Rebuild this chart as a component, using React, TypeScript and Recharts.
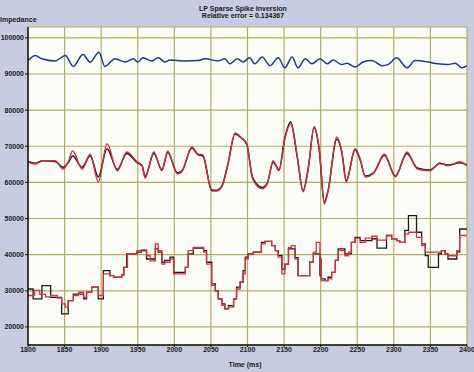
import { ComposedChart, Line, XAxis, YAxis, CartesianGrid, ReferenceLine } from "recharts";

// time (ms) ticks and impedance ticks
const timeTicks = [1800, 1850, 1900, 1950, 2000, 2050, 2100, 2150, 2200, 2250, 2300, 2350, 2400];
const impTicks = [20000, 30000, 40000, 50000, 60000, 70000, 80000, 90000, 100000];

// upper trace (blue)
const blueT = [1800, 1810, 1819, 1837, 1851, 1862, 1875, 1885, 1897, 1905, 1919, 1933, 1944, 1950, 1957, 1969, 1978, 1987, 1994, 2015, 2032, 2042, 2060, 2069, 2076, 2086, 2094, 2103, 2110, 2120, 2131, 2142, 2151, 2161, 2169, 2179, 2188, 2199, 2209, 2217, 2229, 2236, 2247, 2258, 2270, 2284, 2292, 2304, 2318, 2329, 2347, 2360, 2374, 2384, 2393, 2400];
const blueV = [93700, 95100, 94200, 93600, 95100, 92100, 95400, 93300, 96000, 92100, 94200, 93300, 94200, 93300, 94500, 93600, 94500, 93300, 93900, 93600, 93700, 94200, 93600, 94200, 92800, 94200, 93300, 94500, 92800, 94700, 92300, 94500, 91700, 94700, 91700, 94200, 92800, 94200, 92800, 93900, 92600, 93000, 91900, 93300, 93700, 92300, 92600, 94500, 91700, 93700, 93300, 92800, 92600, 93000, 91700, 92300];

// middle traces (smooth)
const midT = [1800, 1810, 1820, 1837, 1848, 1855, 1861, 1874, 1885, 1896, 1908, 1922, 1935, 1949, 1956, 1960, 1972, 1983, 1991, 2004, 2010, 2024, 2032, 2039, 2051, 2058, 2065, 2073, 2083, 2092, 2099, 2107, 2120, 2127, 2135, 2143, 2151, 2159, 2168, 2176, 2183, 2191, 2198, 2205, 2210, 2222, 2229, 2235, 2247, 2254, 2261, 2272, 2287, 2302, 2318, 2332, 2349, 2363, 2374, 2390, 2400];
const midRed = [65600, 65100, 66000, 66000, 63700, 65700, 68700, 63700, 67900, 60100, 70700, 63200, 68400, 65700, 64600, 61200, 68400, 63200, 68700, 62400, 62900, 69800, 67900, 67600, 57600, 57600, 58800, 64600, 73700, 72300, 70700, 61000, 58200, 59600, 66000, 63200, 72000, 76200, 67300, 57400, 63700, 75400, 69300, 54000, 57400, 72600, 68400, 60100, 69300, 66500, 61500, 62400, 67900, 61500, 68400, 63700, 63200, 65400, 64600, 65700, 64600];
const midBlack = [65800, 65300, 66000, 65800, 64200, 65500, 67300, 64200, 67400, 61500, 69300, 63600, 68000, 65500, 64600, 61600, 68000, 63500, 68300, 62700, 63100, 69500, 67700, 67300, 57900, 57800, 59000, 64900, 73400, 72200, 70500, 61300, 58600, 59800, 65600, 63500, 72300, 76800, 67000, 57700, 63900, 75100, 69000, 54600, 57600, 72000, 68200, 60500, 69000, 66200, 61800, 62600, 67500, 61800, 68000, 64000, 63400, 65200, 64800, 65400, 64900];

// lower traces (blocky)
const lowBlackT = [1800, 1807, 1819, 1831, 1846, 1855, 1862, 1876, 1880, 1887, 1896, 1903, 1912, 1917, 1928, 1931, 1935, 1949, 1955, 1962, 1974, 1978, 1983, 1987, 1994, 1999, 2015, 2019, 2026, 2040, 2044, 2051, 2056, 2060, 2065, 2069, 2074, 2081, 2085, 2090, 2094, 2097, 2101, 2108, 2119, 2124, 2133, 2138, 2142, 2147, 2151, 2156, 2165, 2169, 2185, 2190, 2199, 2201, 2206, 2210, 2215, 2220, 2224, 2233, 2242, 2247, 2254, 2270, 2277, 2290, 2297, 2304, 2308, 2315, 2320, 2331, 2338, 2343, 2347, 2361, 2365, 2370, 2374, 2386, 2390, 2400];
const lowBlackV = [30500, 27750, 31450, 28200, 23600, 27300, 29100, 27750, 29600, 31000, 27750, 35600, 34200, 33750, 34400, 36500, 40200, 40700, 41100, 38800, 41600, 40700, 37900, 38400, 39300, 35100, 36500, 40200, 41800, 41100, 37900, 31900, 30000, 27750, 26400, 25000, 25900, 27750, 31000, 32400, 35600, 39300, 40200, 40700, 43400, 43700, 42500, 41100, 39750, 36000, 37400, 41600, 39200, 34200, 37900, 40200, 34200, 33300, 32800, 33750, 35100, 38400, 41600, 40200, 43400, 44800, 43900, 44400, 41800, 45300, 44400, 43900, 43400, 46700, 50800, 46200, 43000, 39750, 36500, 40200, 41100, 40200, 38800, 40700, 47100, 47100];
const lowRedT = [1800, 1809, 1816, 1824, 1831, 1840, 1846, 1851, 1855, 1862, 1869, 1876, 1880, 1887, 1896, 1903, 1912, 1917, 1928, 1931, 1936, 1949, 1955, 1962, 1967, 1974, 1978, 1983, 1987, 1994, 1999, 2015, 2019, 2026, 2040, 2044, 2051, 2056, 2060, 2065, 2069, 2074, 2081, 2085, 2090, 2094, 2097, 2101, 2108, 2119, 2124, 2133, 2138, 2142, 2147, 2151, 2156, 2160, 2165, 2169, 2185, 2190, 2194, 2199, 2201, 2210, 2215, 2220, 2224, 2233, 2238, 2242, 2247, 2254, 2261, 2270, 2277, 2290, 2297, 2304, 2308, 2315, 2320, 2331, 2338, 2343, 2361, 2365, 2370, 2374, 2386, 2390, 2400];
const lowRedV = [28700, 30100, 29000, 28300, 28700, 28000, 26400, 25500, 27300, 28700, 29600, 28200, 29600, 31000, 28700, 34700, 34200, 33700, 34400, 36500, 40200, 41100, 41300, 39700, 38300, 43000, 41100, 37400, 37900, 38800, 34700, 36500, 41100, 42000, 40700, 37400, 31500, 30000, 27700, 26000, 25000, 25500, 27700, 30500, 32400, 34700, 38800, 40200, 40700, 43000, 43700, 42500, 41100, 39300, 34700, 37400, 42000, 42500, 38800, 34200, 37900, 40700, 43400, 38800, 32800, 33300, 35100, 38400, 41100, 39700, 40700, 43400, 44600, 43400, 44600, 45100, 44000, 45300, 44400, 43900, 43400, 45700, 46200, 44800, 42500, 40700, 40700, 41100, 40200, 39700, 41100, 45300, 45300];

const pts = (t: number[], v: number[]) => t.map((x, i) => ({ t: x, v: v[i] }));

const gridColor = "#b0ae62";
const tickStyle = { fill: "#1a1a1a", fontSize: 7, fontWeight: 700, fontFamily: "Liberation Sans, Arial, sans-serif" };
const textStyle: React.CSSProperties = {
  position: "absolute",
  fontFamily: "Liberation Sans, Arial, sans-serif",
  fontSize: 7,
  fontWeight: 700,
  color: "#1a1a1a",
  lineHeight: "7px",
  whiteSpace: "nowrap",
};

export default function App() {
  return (
    <div style={{ position: "absolute", left: 0, top: 0, width: 474, height: 372, background: "#c8cce0", overflow: "hidden" }}>
      <div style={{ ...textStyle, left: 0, width: 486, top: 5, textAlign: "center" }}>LP Sparse Spike Inversion</div>
      <div style={{ ...textStyle, left: 0, width: 486, top: 12, textAlign: "center" }}>Relative error = 0.134367</div>
      <div style={{ ...textStyle, left: 0, top: 16 }}>Impedance</div>
      <div style={{ ...textStyle, left: 0, width: 490, top: 361, textAlign: "center" }}>Time (ms)</div>
      <ComposedChart width={474} height={372} margin={{ top: 27, right: 7, left: 0, bottom: 0 }}>
        <CartesianGrid stroke={gridColor} strokeWidth={1.2} fill="#fdfdf8" fillOpacity={1} vertical={false} />
        {timeTicks.map((t) => (
          <ReferenceLine key={t} x={t} stroke={gridColor} strokeWidth={1.2} />
        ))}
        <XAxis
          type="number"
          dataKey="t"
          domain={[1800, 2400]}
          ticks={timeTicks}
          interval={0}
          height={27}
          tick={tickStyle}
          tickSize={2}
          tickMargin={0}
          axisLine={{ stroke: "#111", strokeWidth: 1.5 }}
          tickLine={{ stroke: "#111" }}
          allowDataOverflow
        />
        <YAxis
          type="number"
          dataKey="v"
          domain={[15000, 103000]}
          ticks={impTicks}
          interval={0}
          width={28}
          tick={tickStyle}
          tickSize={3}
          tickMargin={1}
          axisLine={{ stroke: "#111", strokeWidth: 1.5 }}
          tickLine={{ stroke: "#111" }}
          allowDataOverflow
        />
        <Line data={pts(blueT, blueV)} dataKey="v" type="monotone" stroke="#1d3a86" strokeWidth={1.5} dot={false} isAnimationActive={false} />
        <Line data={pts(midT, midBlack)} dataKey="v" type="monotone" stroke="#1a1a1a" strokeWidth={1.5} dot={false} isAnimationActive={false} />
        <Line data={pts(midT, midRed)} dataKey="v" type="monotone" stroke="#cc2f3e" strokeWidth={1.4} dot={false} isAnimationActive={false} />
        <Line data={pts(lowBlackT, lowBlackV)} dataKey="v" type="stepAfter" stroke="#1a1a1a" strokeWidth={1.3} dot={false} isAnimationActive={false} />
        <Line data={pts(lowRedT, lowRedV)} dataKey="v" type="stepAfter" stroke="#d8313f" strokeWidth={1.3} dot={false} isAnimationActive={false} />
      </ComposedChart>
    </div>
  );
}
